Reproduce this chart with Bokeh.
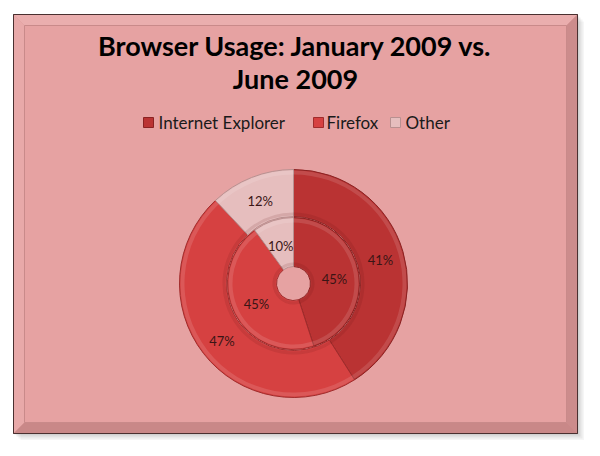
import math
from bokeh.plotting import figure
from bokeh.models import Range1d, ColumnDataSource
from bokeh.core.properties import value
from bokeh.embed import file_html
from bokeh.resources import INLINE

# ---- data ----
title_lines = ["Browser Usage: January 2009 vs.", "June 2009"]
categories = ["Internet Explorer", "Firefox", "Other"]
jan_2009 = [45, 45, 10]   # inner ring
jun_2009 = [41, 47, 12]   # outer ring
colors = ["#BA3333", "#D64141", "#E6BEBE"]
edge_colors = ["#8A2222", "#A02C2C", "#B89090"]

W, H = 584, 440
p = figure(width=W, height=H, x_range=Range1d(0, W), y_range=Range1d(0, H),
           output_backend="svg", toolbar_location=None, min_border=0)
p.axis.visible = False
p.grid.visible = False
p.outline_line_color = None
p.background_fill_color = "white"
p.border_fill_color = "white"

def sy(y):  # picture y -> data y
    return H - y
def sx(x):
    return x

FONT = value("Lato")

# ---- frame with shadow and bevel ----
L, R, T, B = 13, 577, 14, 433
for i, a in enumerate([0.05, 0.07, 0.10, 0.14]):
    off = 7 - 2 * i
    p.quad(left=sx(L + off), right=sx(R + off), top=sy(T + off), bottom=sy(B + off),
           fill_color="#555555", fill_alpha=a, line_color=None)
p.quad(left=sx(L), right=sx(R), top=sy(T), bottom=sy(B),
       fill_color="#D79292", line_color="#5A3A3A", line_width=1)
bw = 11
# light top/left bevel
p.patch(x=[sx(L), sx(R), sx(R - bw), sx(L + bw)],
        y=[sy(T), sy(T), sy(T + bw), sy(T + bw)],
        fill_color="#EAAEAE", line_color=None)
p.patch(x=[sx(L), sx(L), sx(L + bw), sx(L + bw)],
        y=[sy(T), sy(B), sy(B - bw), sy(T + bw)],
        fill_color="#E8A9A9", line_color=None)
# darker bottom/right bevel
p.patch(x=[sx(R), sx(R), sx(R - bw), sx(R - bw)],
        y=[sy(T), sy(B), sy(B - bw), sy(T + bw)],
        fill_color="#CC8C8C", line_color=None)
p.patch(x=[sx(L), sx(R), sx(R - bw), sx(L + bw)],
        y=[sy(B), sy(B), sy(B - bw), sy(B - bw)],
        fill_color="#C98888", line_color=None)
p.quad(left=sx(L), right=sx(R), top=sy(T), bottom=sy(B),
       fill_color=None, line_color="#4A3030", line_width=1)
p.quad(left=sx(L + bw), right=sx(R - bw), top=sy(T + bw), bottom=sy(B - bw),
       fill_color="#E6A2A2", line_color="#C98A8A", line_width=1)

# ---- title ----
p.text(x=[sx(295), sx(295)], y=[sy(45), sy(78)], text=title_lines,
       text_font=FONT, text_font_style="bold", text_font_size="27px",
       text_color="#000000", text_align="center", text_baseline="middle")

# ---- legend ----
leg_marker_x = [148, 318, 395]
leg_text_x = [158, 326, 405]
ly = 122
p.rect(x=[sx(v) for v in leg_marker_x], y=[sy(ly)] * 3, width=10, height=10,
       fill_color=colors, line_color=edge_colors, line_width=1)
p.text(x=[sx(v) for v in leg_text_x], y=[sy(ly)] * 3, text=categories,
       text_font=FONT, text_font_size="17px", text_color="#1A1A1A",
       text_align="left", text_baseline="middle")

# ---- donuts ----
cx, cy = sx(293), sy(283)
r_hole, r_mid, r_gap, r_out = 17, 66, 67, 114

def ring(vals, r_in, r_o):
    tot = float(sum(vals))
    starts, ends, lx, ly_, labels = [], [], [], [], []
    cum = 0.0
    rm = (r_in + r_o) / 2.0
    for v in vals:
        a0 = math.pi / 2 - 2 * math.pi * cum / tot
        a1 = math.pi / 2 - 2 * math.pi * (cum + v) / tot
        starts.append(a0)
        ends.append(a1)
        am = (a0 + a1) / 2
        lx.append(cx + rm * math.cos(am))
        ly_.append(cy + rm * math.sin(am) - 2)
        labels.append("%d%%" % round(100 * v / tot))
        cum += v
    src = ColumnDataSource(dict(start=starts, end=ends, color=colors, edge=edge_colors))
    p.annular_wedge(x=cx, y=cy, inner_radius=r_in, outer_radius=r_o,
                    start_angle="start", end_angle="end", direction="clock",
                    fill_color="color", line_color="edge", line_width=1, source=src)
    p.annular_wedge(x=cx, y=cy, inner_radius=r_o - 5, outer_radius=r_o - 1,
                    start_angle="start", end_angle="end", direction="clock",
                    fill_color="white", fill_alpha=0.12, line_color=None, source=src)
    p.annular_wedge(x=cx, y=cy, inner_radius=r_in + 1, outer_radius=r_in + 4,
                    start_angle="start", end_angle="end", direction="clock",
                    fill_color="#5A1010", fill_alpha=0.12, line_color=None, source=src)
    p.text(x=lx, y=ly_, text=labels, text_font=FONT, text_font_size="13px",
           text_color="#3A1515", text_align="center", text_baseline="middle")

ring(jun_2009, r_gap, r_out)
ring(jan_2009, r_hole, r_mid)

open("out.html", "w").write(file_html(p, INLINE))
